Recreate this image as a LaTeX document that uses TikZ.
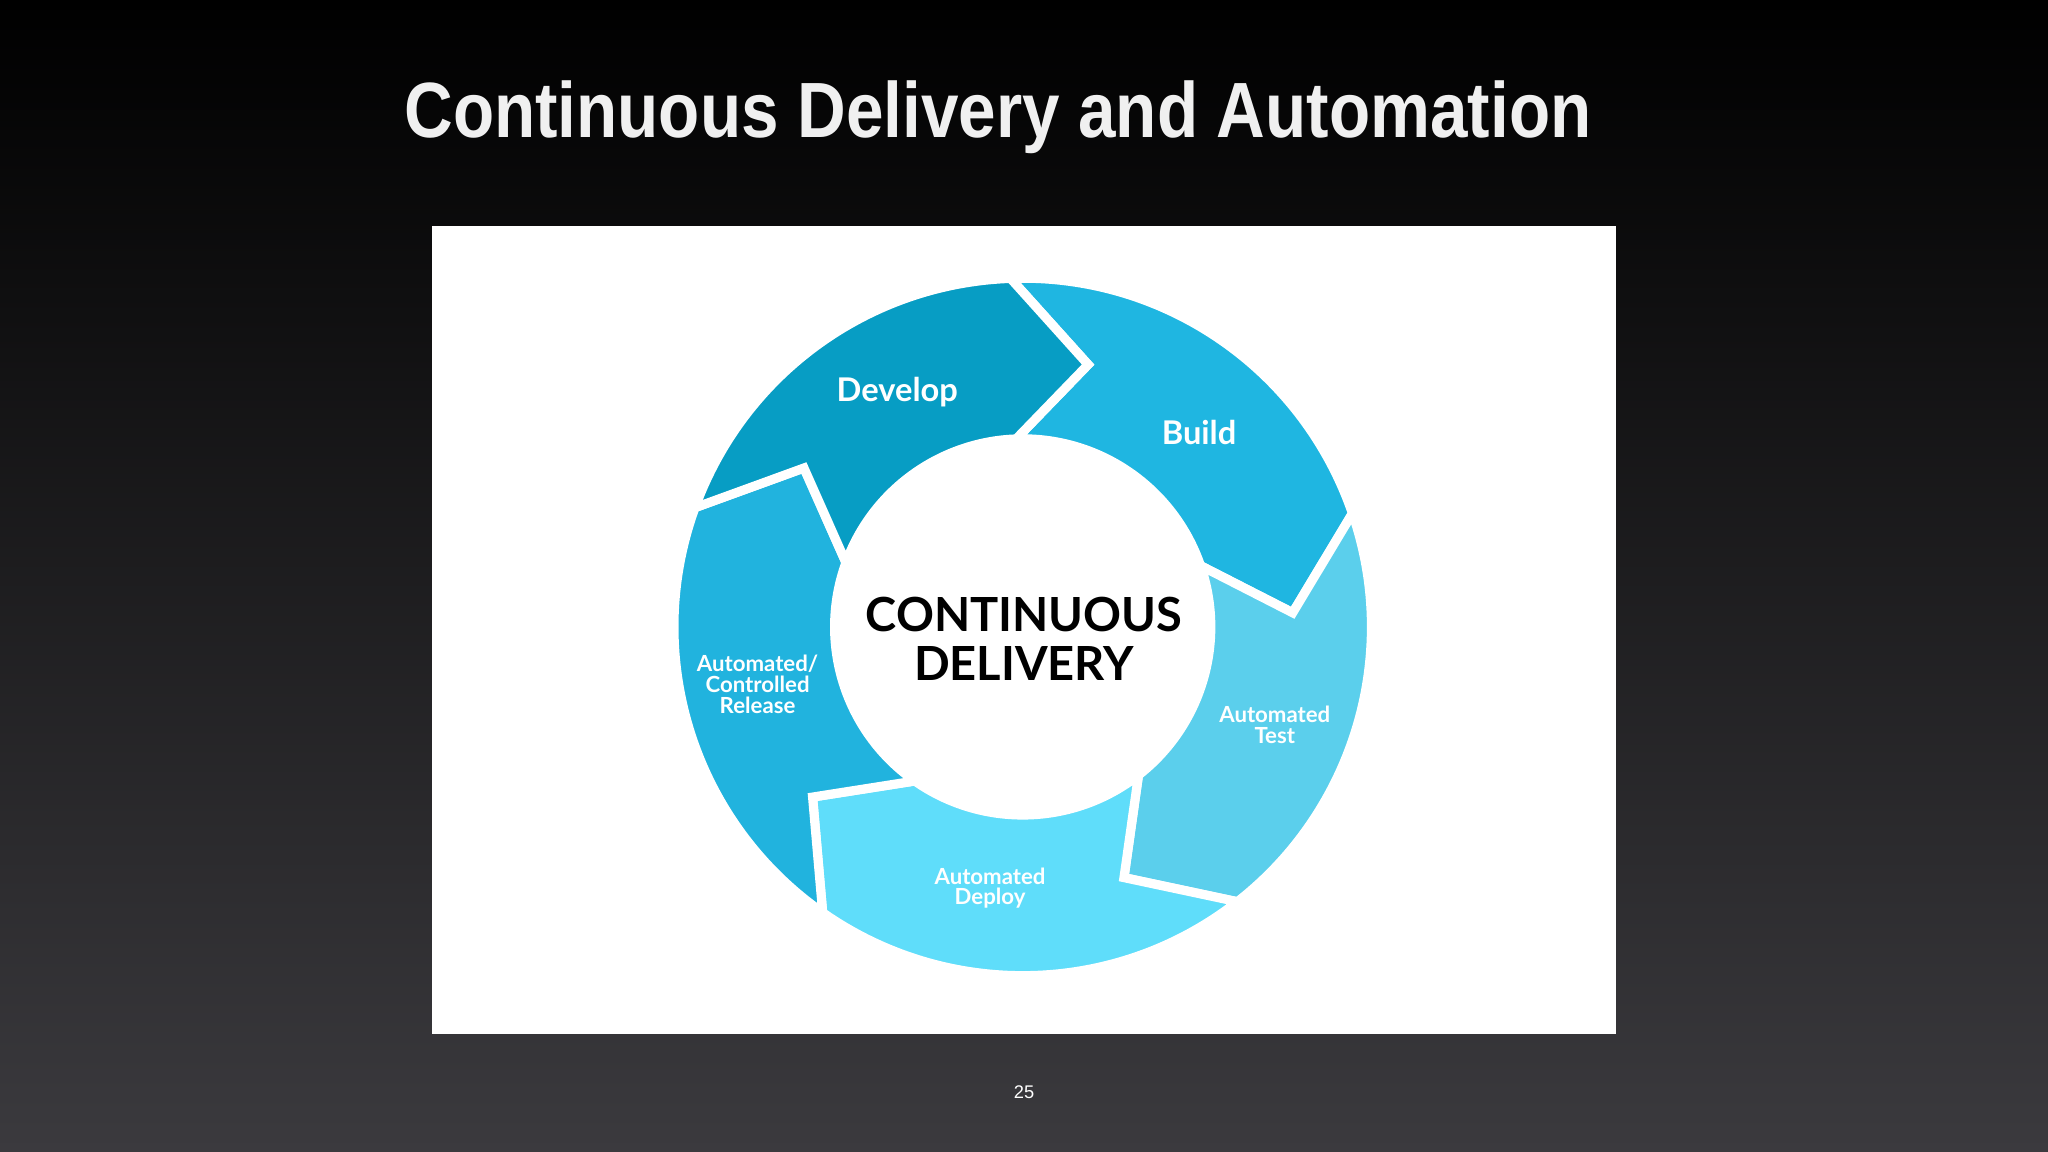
\documentclass[tikz,border=0pt]{standalone}
\usepackage{fontspec}
\setmainfont{Liberation Sans}
\newfontfamily\lato{Lato}
\usetikzlibrary{calc}
\definecolor{cdev}{HTML}{079DC4}
\definecolor{cbuild}{HTML}{1FB6E1}
\definecolor{ctest}{HTML}{5BCFEC}
\definecolor{cdeploy}{HTML}{5FDDFA}
\definecolor{crel}{HTML}{21B3DE}
\definecolor{bgtop}{HTML}{000000}
\definecolor{bgbot}{HTML}{3B3A3E}
\tikzset{
  seg/.style={fill=#1, draw=white, line width=7pt, line join=miter},
  seglabel/.style={text=white, font=\lato\bfseries\fontsize{17}{19}\selectfont, align=center},
  biglabel/.style={text=white, font=\lato\bfseries\fontsize{25}{28}\selectfont}
}
\newcommand{\chev}[3]{% start, end, color
  \fill[seg=#3] ($(C)+(#1:267)$) arc[start angle=#1, end angle=#2, radius=267]
    -- ($(C)+(#2-16:207)$) -- ($(C)+(#2:144)$)
    arc[start angle=#2, end angle=#1, radius=144]
    -- ($(C)+(#1-16:207)$) -- cycle;}
\begin{document}
\begin{tikzpicture}[x=1pt,y=1pt]
\shade[top color=bgtop, bottom color=bgbot] (0,0) rectangle (1568,882);
\useasboundingbox (0,0) rectangle (1568,882);
\node[text=gray!12, font=\bfseries\fontsize{60}{66}\selectfont] (title) at (764,792) {\scalebox{0.86}[1]{Continuous Delivery and Automation}};
\fill[white] (331,90) rectangle (1237,709);
\coordinate (C) at (783,402);
\chev{160}{92}{cdev}
\chev{92}{19}{cbuild}
\chev{19}{-52}{ctest}
\chev{-52}{-125}{cdeploy}
\chev{-125}{-200}{crel}
\draw[seg=cdev] ($(C)+(160:267)$) arc[start angle=160, end angle=92, radius=267]
    -- ($(C)+(76:207)$) -- ($(C)+(92:144)$)
    arc[start angle=92, end angle=160, radius=144]
    -- ($(C)+(144:207)$) -- cycle;
\fill[white] (C) circle (140);
\node[biglabel] (dev) at (687,582) {Develop};
\node[biglabel] (build) at (918,551) {Build};
\node[seglabel] (test) at (976,327) {Automated\\[-3pt]Test};
\node[seglabel] (deploy) at (758,202) {Automated\\[-3pt]Deploy};
\node[seglabel] (rel) at (580,358) {Automated/\\[-3pt]Controlled\\[-3pt]Release};
\node[font=\lato\bfseries\fontsize{36}{38}\selectfont, align=center] (center) at (784,393) {CONTINUOUS\\DELIVERY};
\node[text=white, font=\fontsize{14}{16}\selectfont] (pg) at (784,46) {25};
\end{tikzpicture}
\end{document}
